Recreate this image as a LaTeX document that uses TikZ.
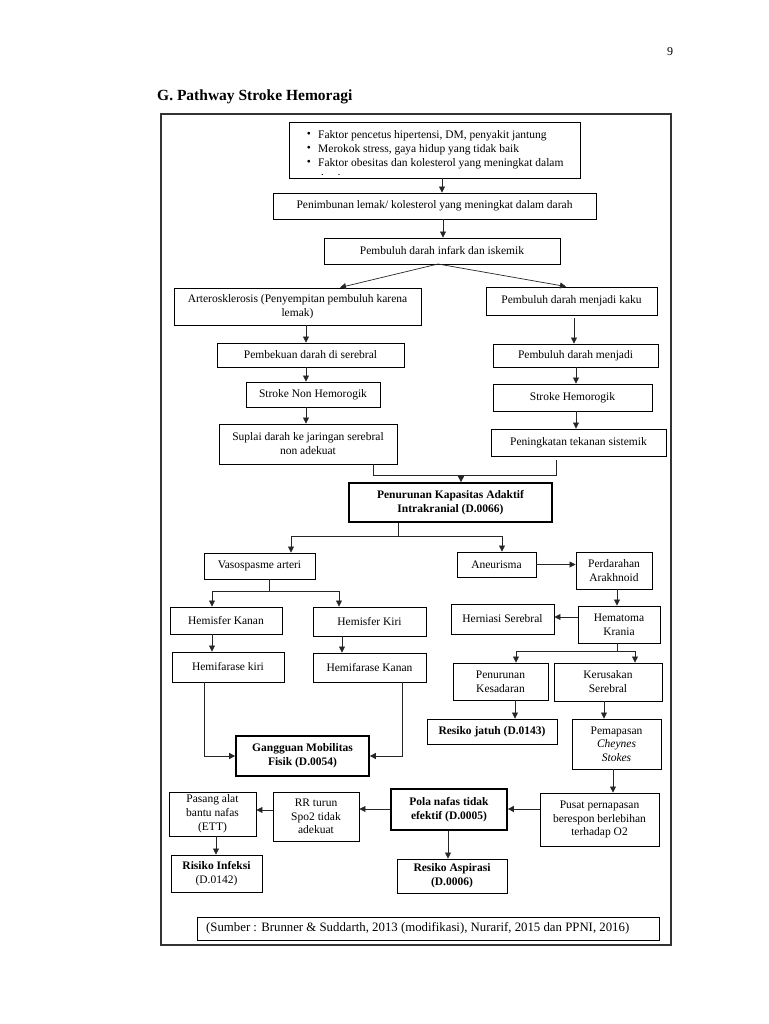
\documentclass[tikz,border=0pt]{standalone}
\usepackage{fontspec}
\setmainfont{Liberation Serif}
\usetikzlibrary{arrows.meta}
\begin{document}
\begin{tikzpicture}[x=1pt,y=-1pt,
  box/.style={draw=black, line width=0.9pt, inner sep=1pt, align=center, font=\fontsize{11.5}{14}\selectfont},
  bbox/.style={box, line width=1.7pt, font=\fontsize{11.5}{14}\selectfont\bfseries},
  txt/.style={inner sep=0pt, font=\fontsize{11.5}{14}\selectfont},
  conn/.style={draw=black!85, line width=0.7pt},
  arr/.style={conn, -{Triangle[length=6pt,width=6pt]}},
]
\useasboundingbox (0,0) rectangle (768,1024);
% page number and title
\node[inner sep=0pt, font=\fontsize{12}{14}\selectfont] (pg) at (670,52) {9};
\node[anchor=base west, inner sep=0pt, font=\fontsize{15.5}{18}\selectfont\bfseries] (title) at (157,101) {G. Pathway Stroke Hemoragi};
% outer frame
\node[draw=black!80, line width=1.3pt, minimum width=510pt, minimum height=831pt, inner sep=0pt] (frame) at (416,529.5) {};

% top bullet box
\node[box, minimum width=291pt, minimum height=56pt] (b1) at (434.5,150) {};
\node[txt] (d1) at (309,135) {\textbullet};
\node[txt] (d2) at (309,149) {\textbullet};
\node[txt] (d3) at (309,163) {\textbullet};
\node[txt, anchor=base west] (t1) at (318,139) {Faktor pencetus hipertensi, DM, penyakit jantung};
\node[txt, anchor=base west] (t2) at (318,153) {Merokok stress, gaya hidup yang tidak baik};
\node[txt, anchor=base west] (t3) at (318,167) {Faktor obesitas dan kolesterol yang meningkat dalam};
\begin{scope}
\clip (292,171) rectangle (578,175);
\node[txt, anchor=base west] (t4) at (318,182.5) {darah};
\end{scope}

\node[box, minimum width=323pt, minimum height=26pt] (b2) at (434.5,206) {Penimbunan lemak/ kolesterol yang meningkat dalam darah};
\node[box, minimum width=236pt, minimum height=26pt] (b3) at (442,251) {Pembuluh darah infark dan iskemik};

% left branch
\node[box, minimum width=247pt, minimum height=37pt] (l1) at (297.5,306.5) {Arterosklerosis (Penyempitan pembuluh karena\\lemak)};
\node[box, minimum width=187pt, minimum height=24pt] (l2) at (310.5,355) {Pembekuan darah di serebral};
\node[box, minimum width=134pt, minimum height=25pt] (l3) at (313,394.5) {Stroke Non Hemorogik};
\node[box, minimum width=178pt, minimum height=40pt] (l4) at (308,444) {Suplai darah ke jaringan serebral\\non adekuat};
% right branch
\node[box, minimum width=171pt, minimum height=28pt] (r1) at (571.5,301) {Pembuluh darah menjadi kaku};
\node[box, minimum width=165pt, minimum height=23pt] (r2) at (575.5,355.5) {Pembuluh darah menjadi};
\node[box, minimum width=159pt, minimum height=27pt] (r3) at (572.5,397.5) {Stroke Hemorogik};
\node[box, minimum width=175pt, minimum height=27pt] (r4) at (578.5,442.5) {Peningkatan tekanan sistemik};

% central diagnosis
\node[bbox, minimum width=203pt, minimum height=39pt] (c) at (450.5,502.5) {Penurunan Kapasitas Adaktif\\Intrakranial (D.0066)};

% left lower
\node[box, minimum width=111pt, minimum height=26pt] (vaso) at (259.5,566) {Vasospasme arteri};
\node[box, minimum width=112pt, minimum height=27pt] (hkanan) at (226,620.5) {Hemisfer Kanan};
\node[box, minimum width=113pt, minimum height=29pt] (hkiri) at (369.5,621.5) {Hemisfer Kiri};
\node[box, minimum width=112pt, minimum height=30pt] (hfkiri) at (228,667) {Hemifarase kiri};
\node[box, minimum width=113pt, minimum height=29pt] (hfkanan) at (369.5,667.5) {Hemifarase Kanan};
\node[bbox, minimum width=133pt, minimum height=40pt] (g) at (302.5,756) {Gangguan Mobilitas\\Fisik (D.0054)};

% right lower
\node[box, minimum width=79pt, minimum height=25pt] (aneu) at (496.5,564.5) {Aneurisma};
\node[box, minimum width=76pt, minimum height=37pt] (perd) at (614,570.5) {Perdarahan\\Arakhnoid};
\node[box, minimum width=82pt, minimum height=37pt] (hemat) at (619,624.5) {Hematoma\\Krania};
\node[box, minimum width=103pt, minimum height=30pt] (hern) at (502.5,619) {Herniasi Serebral};
\node[box, minimum width=95pt, minimum height=37pt] (penkes) at (500.5,681.5) {Penurunan\\Kesadaran};
\node[box, minimum width=108pt, minimum height=38pt] (kerus) at (608,682) {Kerusakan\\Serebral};
\node[box, minimum width=130pt, minimum height=25pt, font=\fontsize{11.5}{14}\selectfont\bfseries] (rjatuh) at (492,731.5) {Resiko jatuh (D.0143)};
\node[box, minimum width=89pt, minimum height=50pt, font=\fontsize{11.5}{13.5}\selectfont] (pern) at (616.5,744) {Pemapasan\\\textit{Cheynes}\\\textit{Stokes}};

% bottom row
\node[box, minimum width=119pt, minimum height=53pt, font=\fontsize{11.5}{13.5}\selectfont] (pusat) at (599.5,819.5) {Pusat pernapasan\\berespon berlebihan\\terhadap O2};
\node[bbox, minimum width=116pt, minimum height=41pt] (pola) at (449,809.5) {Pola nafas tidak\\efektif (D.0005)};
\node[box, minimum width=86pt, minimum height=49pt, font=\fontsize{11.5}{13.5}\selectfont] (rr) at (316,816.5) {RR turun\\Spo2 tidak\\adekuat};
\node[box, minimum width=87pt, minimum height=44pt, font=\fontsize{11.5}{14}\selectfont] (pasang) at (212.5,814) {Pasang alat\\bantu nafas\\(ETT)};
\node[box, minimum width=91pt, minimum height=37pt] (rinf) at (216.5,873.5) {\textbf{Risiko Infeksi}\\(D.0142)};
\node[box, minimum width=110pt, minimum height=34pt, font=\fontsize{11.5}{14}\selectfont\bfseries] (rasp) at (452,876) {Resiko Aspirasi\\(D.0006)};
\node[box, minimum width=462pt, minimum height=23pt] (sumber) at (428,928.5) {};
\node[txt, anchor=west, font=\fontsize{12.8}{15}\selectfont] (sumbertxt) at (206,928.5) {(Sumber : Brunner \& Suddarth, 2013 (modifikasi), Nurarif, 2015 dan PPNI, 2016)};

% ---- connectors ----
\draw[arr] (442,0 |- b1.south) -- (442,0 |- b2.north);
\draw[arr] (443,0 |- b2.south) -- (443,0 |- b3.north);
\coordinate (split1) at (438,264);
\draw[arr] (split1) -- (340,0 |- l1.north);
\draw[arr] (split1) -- (566,0 |- r1.north);
\draw[arr] (306,0 |- l1.south) -- (306,0 |- l2.north);
\draw[arr] (306,0 |- l2.south) -- (306,0 |- l3.north);
\draw[arr] (306,0 |- l3.south) -- (306,0 |- l4.north);
\draw[arr] (574,318) -- (574,0 |- r2.north);
\draw[arr] (576,0 |- r2.south) -- (576,0 |- r3.north);
\draw[arr] (576,0 |- r3.south) -- (576,0 |- r4.north);
% merge
\coordinate (m1) at (461,475);
\draw[conn] (373,0 |- l4.south) -- (373,475) -- (556,475) -- (556,460);
\draw[arr] (m1) -- (461,0 |- c.north);
% split from c
\coordinate (s2) at (398,536);
\draw[conn] (398,0 |- c.south) -- (s2);
\draw[conn] (291,536) -- (502,536);
\draw[arr] (291,536) -- (291,0 |- vaso.north);
\draw[arr] (502,536) -- (502,0 |- aneu.north);
% vaso split
\draw[conn] (269,0 |- vaso.south) -- (269,591);
\draw[conn] (212,591) -- (339,591);
\draw[arr] (212,591) -- (212,0 |- hkanan.north);
\draw[arr] (339,591) -- (339,0 |- hkiri.north);
\draw[arr] (212,0 |- hkanan.south) -- (212,0 |- hfkiri.north);
\draw[arr] (342,0 |- hkiri.south) -- (342,0 |- hfkanan.north);
\draw[arr] (204,0 |- hfkiri.south) |- (g.west);
\draw[arr] (402,0 |- hfkanan.south) |- (g.east);
% right lower
\draw[arr] (aneu.east) -- (perd.west |- aneu.east);
\draw[arr] (617,0 |- perd.south) -- (617,0 |- hemat.north);
\draw[arr] (hemat.west |- 0,617) -- (hern.east |- 0,617);
\draw[conn] (617,0 |- hemat.south) -- (617,651);
\draw[conn] (516,651) -- (635,651);
\draw[arr] (516,651) -- (516,0 |- penkes.north);
\draw[arr] (635,651) -- (635,0 |- kerus.north);
\draw[arr] (515,0 |- penkes.south) -- (515,0 |- rjatuh.north);
\draw[arr] (604,0 |- kerus.south) -- (604,0 |- pern.north);
\draw[arr] (613,0 |- pern.south) -- (613,0 |- pusat.north);
% bottom row
\draw[arr] (pusat.west |- 0,809) -- (pola.east |- 0,809);
\draw[arr] (pola.west |- 0,809) -- (rr.east |- 0,809);
\draw[arr] (rr.west |- 0,810) -- (pasang.east |- 0,810);
\draw[arr] (216,0 |- pasang.south) -- (216,0 |- rinf.north);
\draw[arr] (448,0 |- pola.south) -- (448,0 |- rasp.north);
\end{tikzpicture}
\end{document}
